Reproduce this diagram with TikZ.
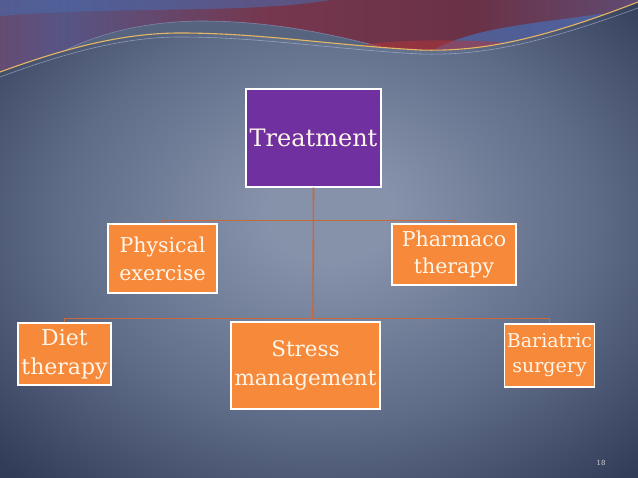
\documentclass[tikz,border=0pt]{standalone}
\usepackage{fontspec}
\setmainfont{DejaVu Serif}
\usepackage{tikz}
\usetikzlibrary{positioning}
\definecolor{bgin}{HTML}{8692AA}
\definecolor{bgmid}{HTML}{5F6C88}
\definecolor{bgedge}{HTML}{323D59}
\definecolor{bgout}{HTML}{1D263D}
\definecolor{boxorange}{HTML}{F6893A}
\definecolor{boxpurple}{HTML}{7030A0}
\definecolor{boxtext}{HTML}{FFF6EA}
\definecolor{connline}{HTML}{C8693A}
\definecolor{wavered}{HTML}{B8363A}
\definecolor{wavemaroon}{HTML}{76374E}
\definecolor{waveblue}{HTML}{4B68A8}
\definecolor{wavelav}{HTML}{6C6AA6}
\definecolor{wavecrest}{HTML}{56647F}
\definecolor{wavegold}{HTML}{E6B763}
\pgfdeclareradialshading{slidebg}{\pgfpoint{1bp}{3bp}}{color(0bp)=(bgin); color(5bp)=(bgin); color(21bp)=(bgmid); color(35bp)=(bgedge); color(50bp)=(bgout)}
\pgfdeclarehorizontalshading{waveband}{100bp}{color(0bp)=(wavered); color(14bp)=(wavemaroon!80!wavered); color(30bp)=(wavelav!80!black); color(46bp)=(wavemaroon); color(62bp)=(wavemaroon!90!black); color(80bp)=(waveblue!60!wavemaroon); color(100bp)=(wavelav)}
\tikzset{
  box/.style={draw=white, line width=1.2pt, fill=boxorange, text=boxtext, align=center, inner sep=0pt},
  conn/.style={connline, line width=1.6pt}
}
\begin{document}
\begin{tikzpicture}[x=1pt,y=-1pt]
  \useasboundingbox (0,0) rectangle (638,478);
  % slide background
  \shade[shading=slidebg] (0,0) rectangle (638,478);
  % wave at the top
  \begin{scope}
    \clip (0,0) -- (638,0) -- (638,2) .. controls (540,40) and (480,52) .. (420,50) .. controls (330,45) and (260,33) .. (180,33) .. controls (120,33) and (60,50) .. (0,72) -- cycle;
    \shade[shading=waveband] (0,0) rectangle (638,80);
    \fill[waveblue,opacity=0.6] (0,0) -- (330,0) .. controls (250,14) and (120,6) .. (0,16) -- cycle;
    \fill[wavecrest] (25,120) -- (25,75) .. controls (65,45) and (120,22) .. (200,21) .. controls (270,21) and (330,33) .. (400,52) -- (400,120) -- cycle;
    \draw[waveblue!60!white,opacity=0.6,line width=0.6pt] (25,75) .. controls (65,45) and (120,22) .. (200,21) .. controls (270,21) and (330,33) .. (400,52);
    \fill[waveblue,opacity=0.8] (430,52) .. controls (470,28) and (530,24) .. (600,14) -- (638,14) -- (638,40) .. controls (560,48) and (500,52) .. (460,54) -- cycle;
    \fill[wavered,opacity=0.5] (340,48) .. controls (400,38) and (450,40) .. (500,42) -- (500,60) -- (340,60) -- cycle;
  \end{scope}
  \draw[waveblue!40!white,opacity=0.6,line width=0.6pt] (0,77) .. controls (60,55) and (120,37) .. (180,37) .. controls (260,37) and (330,49) .. (420,54) .. controls (480,56) and (540,44) .. (638,8);
  \draw[wavegold,line width=1.1pt] (0,72) .. controls (60,50) and (120,33) .. (180,33) .. controls (260,33) and (330,45) .. (420,50) .. controls (480,52) and (540,40) .. (638,2);

  % boxes
  \node[box,fill=boxpurple,minimum width=135pt,minimum height=98pt,font=\fontsize{24}{30}\selectfont] (treat) at (313.5,138) {Treatment};
  \node[box,minimum width=109pt,minimum height=69pt,font=\fontsize{20.5}{28}\selectfont] (phys) at (162.5,258.5) {Physical\\exercise};
  \node[box,minimum width=124pt,minimum height=61pt,font=\fontsize{20.5}{27}\selectfont] (pharm) at (454,254.5) {Pharmaco\\therapy};
  \node[box,minimum width=93pt,minimum height=62pt,font=\fontsize{22}{29}\selectfont] (diet) at (64.5,354) {Diet\\therapy};
  \node[box,minimum width=149pt,minimum height=87pt,font=\fontsize{21.5}{29}\selectfont] (stress) at (305.5,365.5) {Stress\\management};
  \node[box,minimum width=90pt,minimum height=63pt,font=\fontsize{19}{25}\selectfont] (bari) at (549.5,355.5) {Bariatric\\surgery};
  \coordinate (lowbar) at (313,319);

  % connectors
  \draw[conn] (treat.south) -- (lowbar);
  \draw[conn] (phys.north) -- ++(0,-3) -| (pharm.north);
  \draw[conn] (diet.north) -- ++(0,-4) -| (bari.north);

  \node[text=white!85!black,font=\fontsize{7}{8}\selectfont] (pagenum) at (601,463) {18};
\end{tikzpicture}
\end{document}
